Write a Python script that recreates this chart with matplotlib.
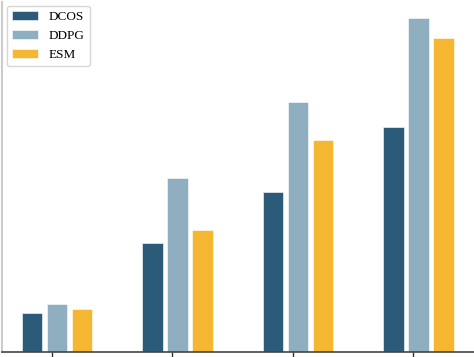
import numpy as np
import matplotlib
matplotlib.use("Agg")
import matplotlib.pyplot as plt

# bar heights (scaled so the tallest bar is 100)
groups = ["1", "2", "3", "4"]
dcos = [11.5, 32.7, 48.0, 67.4]
ddpg = [14.4, 52.0, 75.0, 100.0]
esm = [12.8, 36.5, 63.4, 94.2]

series = {"DCOS": dcos, "DDPG": ddpg, "ESM": esm}
colors = {"DCOS": "#2c5b79", "DDPG": "#8fafc1", "ESM": "#f5b732"}

plt.rcParams["font.family"] = ["Liberation Serif", "DejaVu Serif"]

fig = plt.figure(figsize=(4.74, 3.57), dpi=100)
ax = fig.add_axes([2 / 474, 5.3 / 357, 472 / 474, 350 / 357])

x = np.arange(len(groups))
width = 0.17
pitch = 0.2075
start = -0.1625
for i, (name, vals) in enumerate(series.items()):
    ax.bar(x + start + i * pitch, vals, width=width, color=colors[name],
           label=name, edgecolor="white", linewidth=0.4)

ax.set_xlim(-0.413, -0.413 + 472 / 120.4)
ax.set_ylim(0, 105)
ax.set_xticks(x)
ax.set_xticklabels([])
ax.set_yticks([])
ax.tick_params(axis="x", length=5, width=1, color="#333333", direction="out")

ax.spines["top"].set_visible(False)
ax.spines["right"].set_visible(False)
ax.spines["left"].set_color("#cccccc")
ax.spines["left"].set_linewidth(1.5)
ax.spines["bottom"].set_color("#444444")
ax.spines["bottom"].set_linewidth(1.2)

leg = ax.legend(loc="upper left", bbox_to_anchor=(6.7 / 474, 1 - 5.7 / 357),
                bbox_transform=fig.transFigure, borderaxespad=0, fontsize=9.5,
                frameon=True, fancybox=True, handletextpad=0.8)
leg.get_frame().set_edgecolor("#cccccc")

plt.savefig("out.png", dpi=100)
